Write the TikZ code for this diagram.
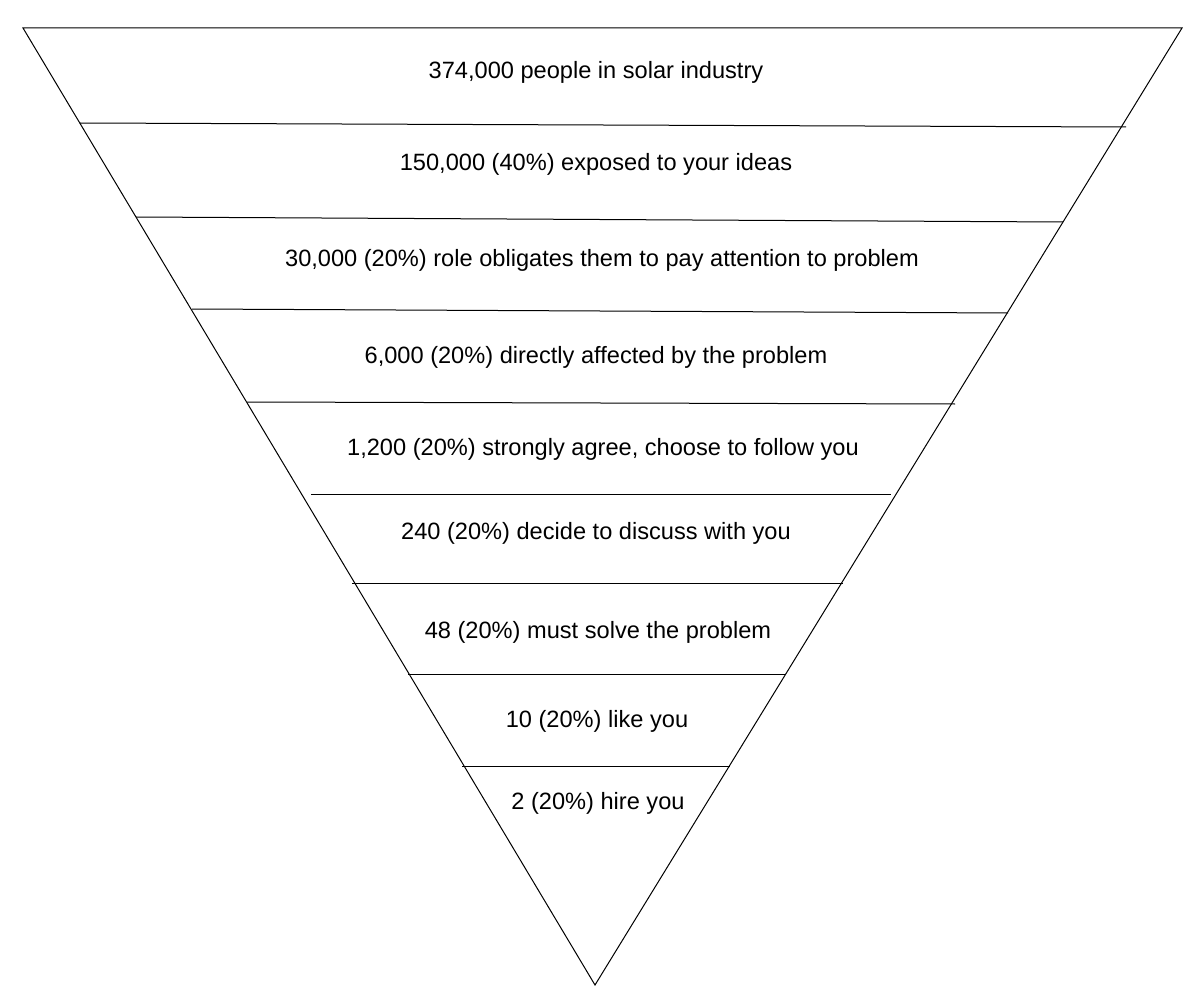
\documentclass[tikz,border=0pt]{standalone}
\usepackage{fontspec}
\setmainfont{Liberation Sans}
\begin{document}
\begin{tikzpicture}[x=1pt,y=-1pt,line width=1pt,
  lbl/.style={font=\fontsize{23.6}{26}\selectfont,anchor=center}]
\useasboundingbox (0,0) rectangle (1200,1003);
\coordinate (tl) at (23,28); \coordinate (tr) at (1182,28); \coordinate (ap) at (595,985);
\draw (tl) -- (tr) -- (ap) -- cycle;
\foreach \a/\b/\c/\d [count=\i] in {80/123/1126/127,136/217/1063/222,192/309/1008/313,247/402/955/404,311/494/891/494,352/583/843/583,408/674/785/674,462/766/730/766}{
  \coordinate (l\i) at (\a,\b); \coordinate (r\i) at (\c,\d);
  \draw (l\i) -- (r\i);
}
\node[lbl] (t1) at (596,72) {374,000 people in solar industry};
\node[lbl] (t2) at (596,164) {150,000 (40\%) exposed to your ideas};
\node[lbl] (t3) at (602,260) {30,000 (20\%) role obligates them to pay attention to problem};
\node[lbl] (t4) at (596,357) {6,000 (20\%) directly affected by the problem};
\node[lbl] (t5) at (603,449) {1,200 (20\%) strongly agree, choose to follow you};
\node[lbl] (t6) at (596,533) {240 (20\%) decide to discuss with you};
\node[lbl] (t7) at (598,632) {48 (20\%) must solve the problem};
\node[lbl] (t8) at (597,721) {10 (20\%) like you};
\node[lbl] (t9) at (598,803) {2 (20\%) hire you};
\end{tikzpicture}
\end{document}
